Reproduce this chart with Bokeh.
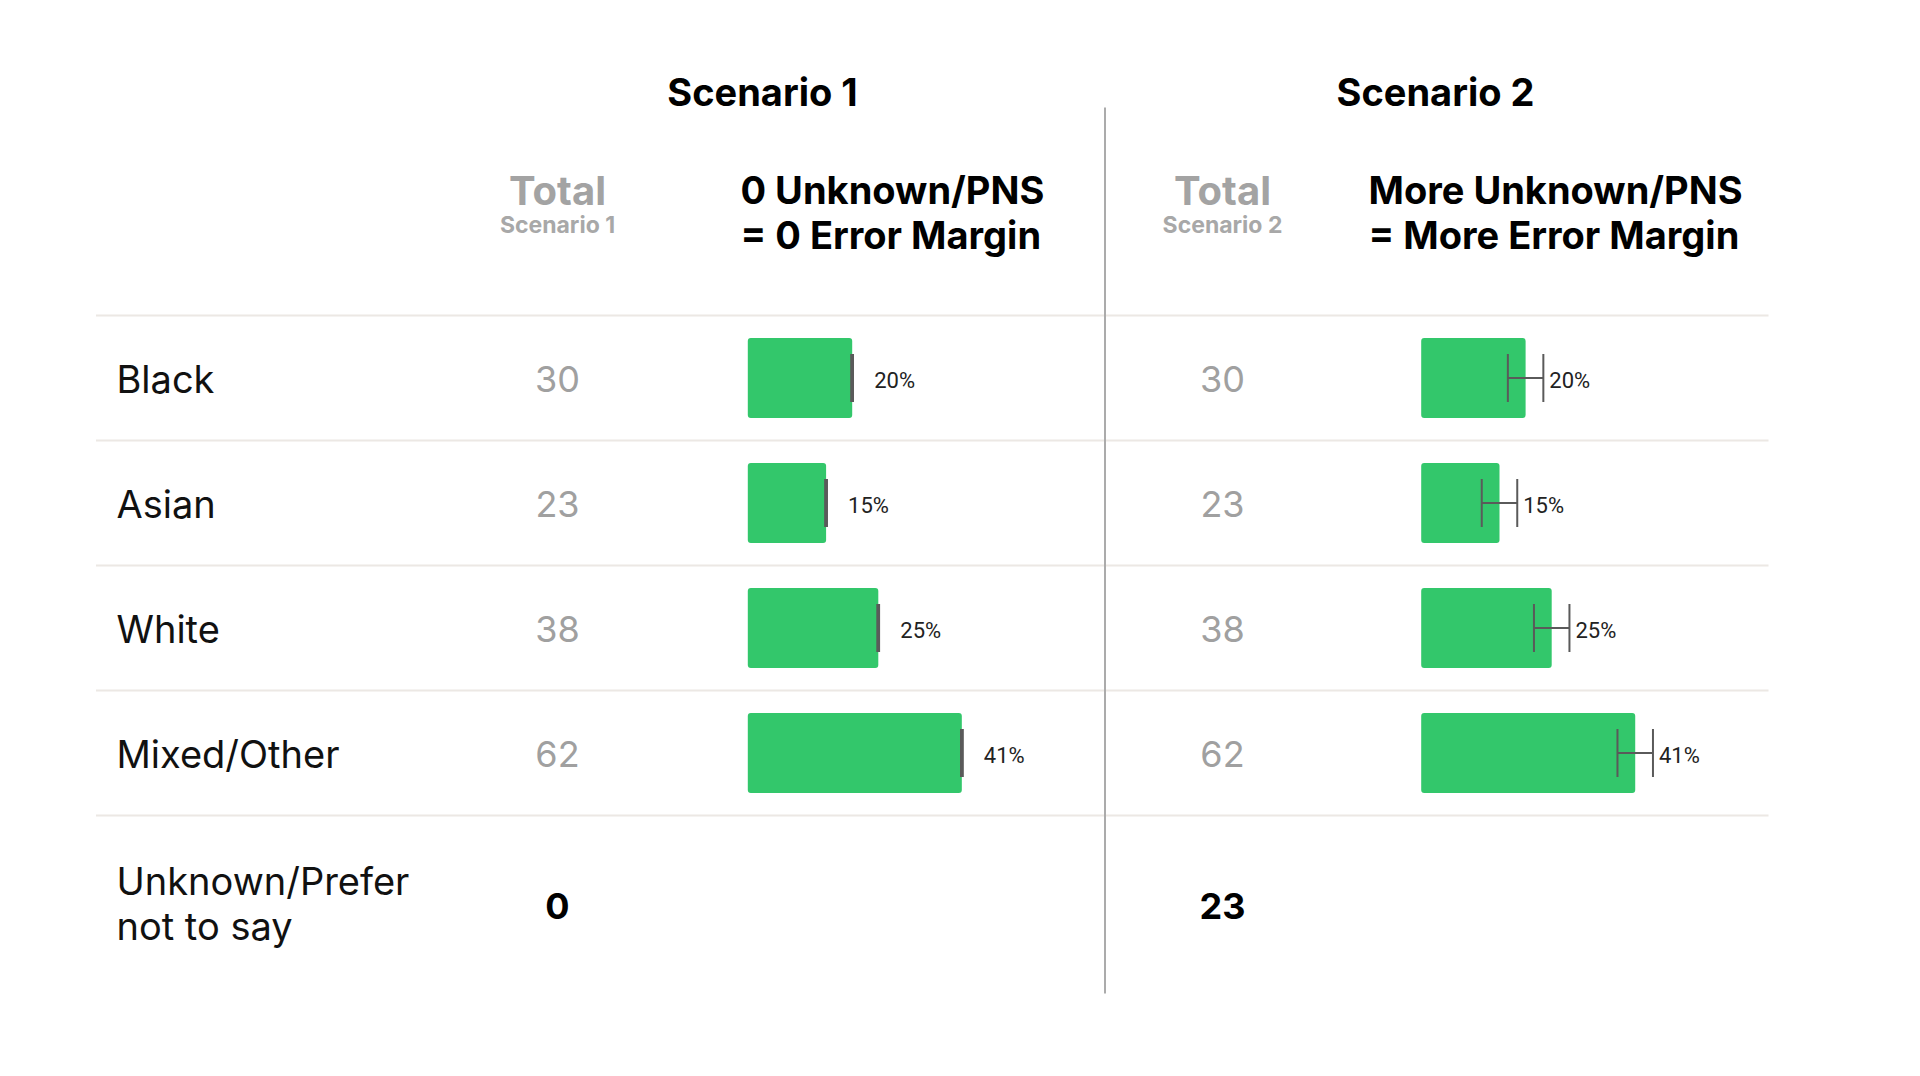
from bokeh.plotting import figure
from bokeh.models import Range1d, ColumnDataSource, Whisker, TeeHead
from bokeh.core.properties import value
from bokeh.embed import file_html
from bokeh.resources import INLINE

# ---------------- data ----------------
categories = ["Black", "Asian", "White", "Mixed/Other"]
totals_s1 = [30, 23, 38, 62]
totals_s2 = [30, 23, 38, 62]
pct_s1 = [20, 15, 25, 41]
pct_s2 = [20, 15, 25, 41]
margin_s1 = [0, 0, 0, 0]
margin_s2 = [3.4, 3.4, 3.4, 3.4]
unknown_label = "Unknown/Prefer\nnot to say"
unknown_s1 = 0
unknown_s2 = 23
scenario_titles = ["Scenario 1", "Scenario 2"]
total_sub = ["Scenario 1", "Scenario 2"]
col_headers = ["0 Unknown/PNS\n= 0 Error Margin", "More Unknown/PNS\n= More Error Margin"]

# ---------------- layout constants ----------------
W, H = 1904, 1060
FONT = "Inter"
K = 5.22            # px per percent
X0_S1, X0_S2 = 747.3, 1420.7
ROW0, PITCH = 377.5, 125.0
BAR_H = 0.64
GREEN = "#33c76b"

p = figure(width=W, height=H, output_backend="svg", toolbar_location=None,
           x_range=Range1d(0, W), y_range=Range1d(H, 0),
           min_border=0, outline_line_color=None, background_fill_color="white")
p.axis.visible = False
p.grid.visible = False
p.extra_x_ranges = {
    "s1": Range1d((0 - X0_S1) / K, (W - X0_S1) / K),
    "s2": Range1d((0 - X0_S2) / K, (W - X0_S2) / K),
}
p.extra_y_ranges = {"rows": Range1d((H - ROW0) / PITCH, (0 - ROW0) / PITCH)}

n = len(categories)
rows = list(range(n))

# row separator lines
sep_y = [i - 0.5 for i in range(n + 1)]
p.segment(x0=[95.5] * len(sep_y), x1=[1768] * len(sep_y), y0=sep_y, y1=sep_y,
          y_range_name="rows", line_color="#ece8e4", line_width=2)

# vertical divider
p.segment(x0=[1104.5], x1=[1104.5], y0=[107], y1=[993], line_color="#ababab", line_width=2)

# scenario titles
p.text(x=[762, 1435], y=[91, 91], text=scenario_titles, text_font=value(FONT),
       text_font_style="bold", text_font_size="38px", text_align="center",
       text_baseline="alphabetic", text_color="#000000")

# Total headers
p.text(x=[557, 1222], y=[190, 190], text=["Total", "Total"], text_font=value(FONT),
       text_font_style="bold", text_font_size="40px", text_align="center",
       text_baseline="alphabetic", text_color="#a3a3a3")
p.text(x=[557, 1222], y=[224, 224], text=total_sub, text_font=value(FONT),
       text_font_style="bold", text_font_size="23px", text_align="center",
       text_baseline="alphabetic", text_color="#a8a8a8")

# column headers
p.text(x=[740, 1368], y=[212, 212], text=col_headers, text_font=value(FONT),
       text_font_style="bold", text_font_size="38px", text_align="left",
       text_baseline="alphabetic", text_line_height=0.96, text_color="#000000")

# row labels
p.text(x=[116] * n, y=rows, text=categories, y_range_name="rows", y_offset=1,
       text_font=value(FONT), text_font_size="38px", text_align="left",
       text_baseline="alphabetic", text_color="#111111")

# totals
for xc, tots in ((557, totals_s1), (1222, totals_s2)):
    p.text(x=[xc] * n, y=rows, text=[str(t) for t in tots], y_range_name="rows",
           y_offset=1, text_font=value(FONT), text_font_size="36px",
           text_align="center", text_baseline="alphabetic", text_color="#a0a0a0")

# bars, error bars and labels
for rng, pcts, margins, gap in (("s1", pct_s1, margin_s1, 22), ("s2", pct_s2, margin_s2, 6)):
    src = ColumnDataSource(dict(
        row=rows, val=pcts,
        lo=[v - m for v, m in zip(pcts, margins)],
        hi=[v + m for v, m in zip(pcts, margins)],
        lab=[f"{v}%" for v in pcts],
    ))
    p.hbar(y="row", left=0, right="val", height=BAR_H, source=src,
           x_range_name=rng, y_range_name="rows", fill_color=GREEN,
           line_color=None, border_radius=3)
    lw = 3.5 if rng == "s1" else 2
    col = "#5a5a5a"
    w = Whisker(source=src, base="row", lower="lo", upper="hi", dimension="width",
                x_range_name=rng, y_range_name="rows", line_color=col, line_width=lw,
                level="overlay",
                upper_head=TeeHead(size=48, line_color=col, line_width=lw),
                lower_head=TeeHead(size=48, line_color=col, line_width=lw))
    p.add_layout(w)
    p.text(x="hi", y="row", text="lab", source=src, x_range_name=rng, y_range_name="rows",
           x_offset=gap, y_offset=2, text_font=value("Roboto"), text_font_size="22px",
           text_align="left", text_baseline="alphabetic", text_color="#222222")

# unknown row
p.text(x=[116], y=[903], text=[unknown_label], text_font=value(FONT),
       text_font_size="38px", text_align="left", text_baseline="alphabetic",
       text_line_height=0.96, text_color="#111111")
p.text(x=[557, 1222], y=[905, 905], text=[str(unknown_s1), str(unknown_s2)],
       text_font=value(FONT), text_font_style="bold", text_font_size="36px",
       text_align="center", text_baseline="alphabetic", text_color="#000000")

open("out.html", "w").write(file_html(p, INLINE))
